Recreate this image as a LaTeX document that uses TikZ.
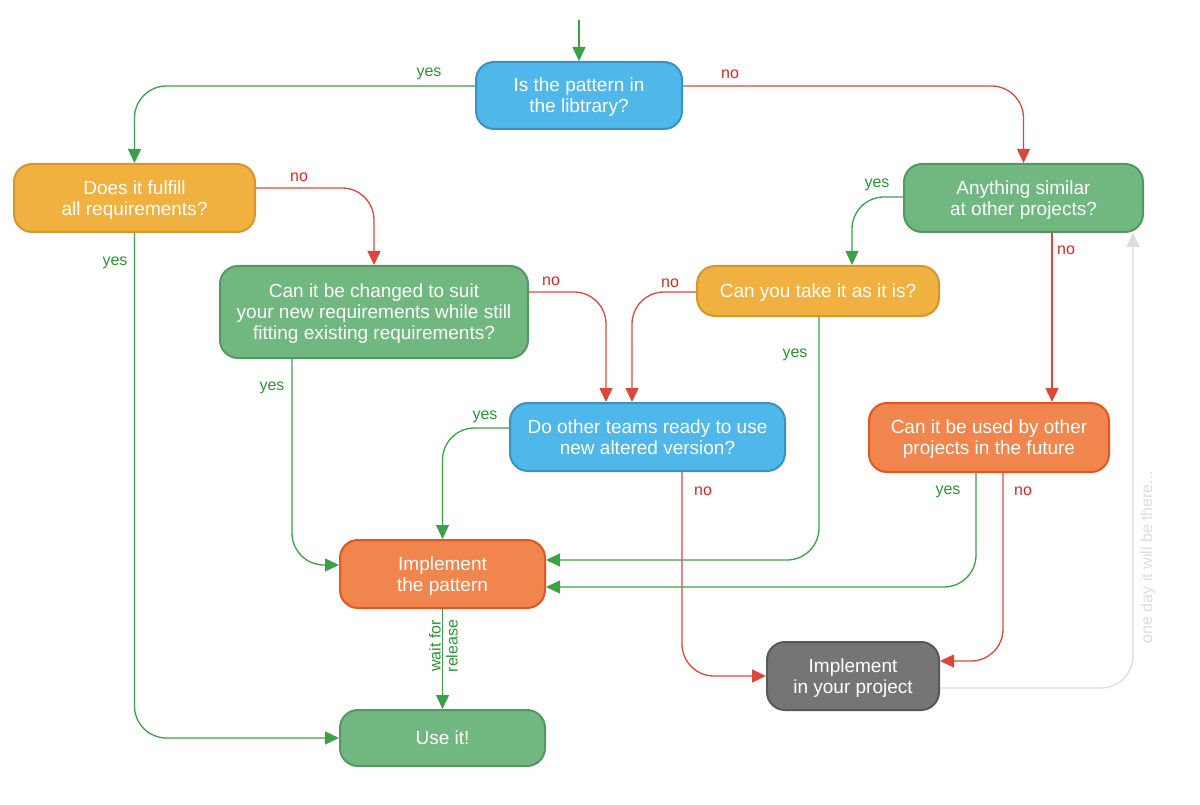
\documentclass[tikz,border=0pt]{standalone}
\usepackage{fontspec}
\setmainfont{Liberation Sans}
\usetikzlibrary{arrows.meta}
\definecolor{fcblue}{RGB}{80,183,235}
\definecolor{fcblueline}{RGB}{58,145,196}
\definecolor{fcyellow}{RGB}{240,177,65}
\definecolor{fcyellowline}{RGB}{214,150,45}
\definecolor{fcgreen}{RGB}{112,184,128}
\definecolor{fcgreenline}{RGB}{85,150,100}
\definecolor{fcorange}{RGB}{240,133,78}
\definecolor{fcorangeline}{RGB}{230,85,30}
\definecolor{fcgray}{RGB}{117,117,117}
\definecolor{fcgrayline}{RGB}{88,88,88}
\definecolor{fcyes}{RGB}{60,160,70}
\definecolor{fcno}{RGB}{222,70,60}
\definecolor{fcyestext}{RGB}{40,150,50}
\definecolor{fcnotext}{RGB}{215,40,35}
\definecolor{fchint}{RGB}{220,220,220}

\begin{document}
\begin{tikzpicture}[x=1pt, y=-1pt,
    qbox/.style={rectangle, rounded corners=18pt, line width=2pt, text=white, align=center, text depth=-8pt, font=\fontsize{19}{21}\selectfont},
    wire/.style={-{Triangle[length=14pt,width=13pt]}, line width=1.3pt, rounded corners=32pt},
    yesline/.style={wire, draw=fcyes},
    noline/.style={wire, draw=fcno},
    yeslabel/.style={text=fcyestext, font=\fontsize{16}{18}\selectfont, inner sep=0pt},
    nolabel/.style={text=fcnotext, font=\fontsize{16}{18}\selectfont, inner sep=0pt}]
    \useasboundingbox (0,0) rectangle (1200,805);

    % Questions
    \node[qbox, fill=fcblue, draw=fcblueline, minimum width=206pt, minimum height=67pt] (lib) at (579,95.5) {Is the pattern in\\the libtrary?};
    \node[qbox, fill=fcyellow, draw=fcyellowline, minimum width=241pt, minimum height=68pt] (fulfill) at (134.5,198) {Does it fulfill\\all requirements?};
    \node[qbox, fill=fcgreen, draw=fcgreenline, minimum width=308pt, minimum height=92pt] (change) at (374,312) {Can it be changed to suit\\your new requirements while still\\fitting existing requirements?};
    \node[qbox, fill=fcgreen, draw=fcgreenline, minimum width=239pt, minimum height=68pt] (similar) at (1023.5,198) {Anything similar\\at other projects?};
    \node[qbox, fill=fcyellow, draw=fcyellowline, minimum width=242pt, minimum height=50pt] (asis) at (818,291) {Can you take it as it is?};
    \node[qbox, fill=fcblue, draw=fcblueline, minimum width=275pt, minimum height=68pt] (teams) at (647.5,437) {Do other teams ready to use\\new altered version?};
    \node[qbox, fill=fcorange, draw=fcorangeline, minimum width=240pt, minimum height=69pt] (future) at (989,437.5) {Can it be used by other\\projects in the future};

    % Actions
    \node[qbox, fill=fcorange, draw=fcorangeline, minimum width=205pt, minimum height=68pt] (impl) at (442.5,574) {Implement\\the pattern};
    \node[qbox, fill=fcgreen, draw=fcgreenline, minimum width=205pt, minimum height=56pt] (use) at (442.5,738) {Use it!};
    \node[qbox, fill=fcgray, draw=fcgrayline, minimum width=172pt, minimum height=68pt] (own) at (853,676) {Implement\\in your project};

    % Connections
    \coordinate (start) at (579,20);
    \draw[yesline] (start) -- (lib.north);
    \draw[yesline] ([yshift=9.5pt]lib.west) -| (fulfill.north);
    \draw[noline] ([yshift=9.5pt]lib.east) -| (similar.north);
    \draw[noline] ([yshift=10pt]fulfill.east) -| (change.north);
    \draw[yesline] (fulfill.south) |- (use.west);
    \draw[noline] ([yshift=20pt]change.east) -| ([xshift=-41.5pt]teams.north);
    \draw[yesline] ([xshift=-82pt]change.south) |- ([yshift=9pt]impl.west);
    \draw[yesline] ([yshift=1pt]similar.west) -| ([xshift=34pt]asis.north);
    \draw[noline] ([xshift=28.5pt]similar.south) -- ([xshift=28.5pt]similar.south |- future.north);
    \draw[noline] ([yshift=-1pt]asis.west) -| ([xshift=-15.5pt]teams.north);
    \draw[yesline] ([xshift=1pt]asis.south) |- ([yshift=14pt]impl.east);
    \draw[yesline] ([yshift=9pt]teams.west) -| (impl.north);
    \draw[noline] ([xshift=34.5pt]teams.south) |- (own.west);
    \draw[yesline] ([xshift=-13pt]future.south) |- ([yshift=-13pt]impl.east);
    \draw[noline] ([xshift=14pt]future.south) |- ([yshift=15pt]own.east);
    \draw[yesline] (impl.south) -- (use.north);
    \draw[wire, draw=fchint] ([yshift=-12pt]own.east) -| ([xshift=109.5pt]similar.south);

    % Labels
    \node[yeslabel] (l1) at (429,74) {yes};
    \node[nolabel] (l2) at (730,74) {no};
    \node[nolabel] (l3) at (299,177) {no};
    \node[yeslabel] (l4) at (115,263) {yes};
    \node[nolabel] (l5) at (551,281) {no};
    \node[yeslabel] (l6) at (272,388) {yes};
    \node[yeslabel] (l7) at (877,185) {yes};
    \node[nolabel] (l8) at (1066,250) {no};
    \node[nolabel] (l9) at (670,283) {no};
    \node[yeslabel] (l10) at (795,355) {yes};
    \node[yeslabel] (l11) at (485,417) {yes};
    \node[nolabel] (l12) at (703,491) {no};
    \node[yeslabel] (l13) at (948,492) {yes};
    \node[nolabel] (l14) at (1023,491) {no};
    \node[yeslabel, rotate=90] (l15) at (435,646) {wait for};
    \node[yeslabel, rotate=90] (l16) at (452,646) {release};
    \node[yeslabel, text=fchint, rotate=90] (l17) at (1148,557) {one day it will be there...};
\end{tikzpicture}
\end{document}
